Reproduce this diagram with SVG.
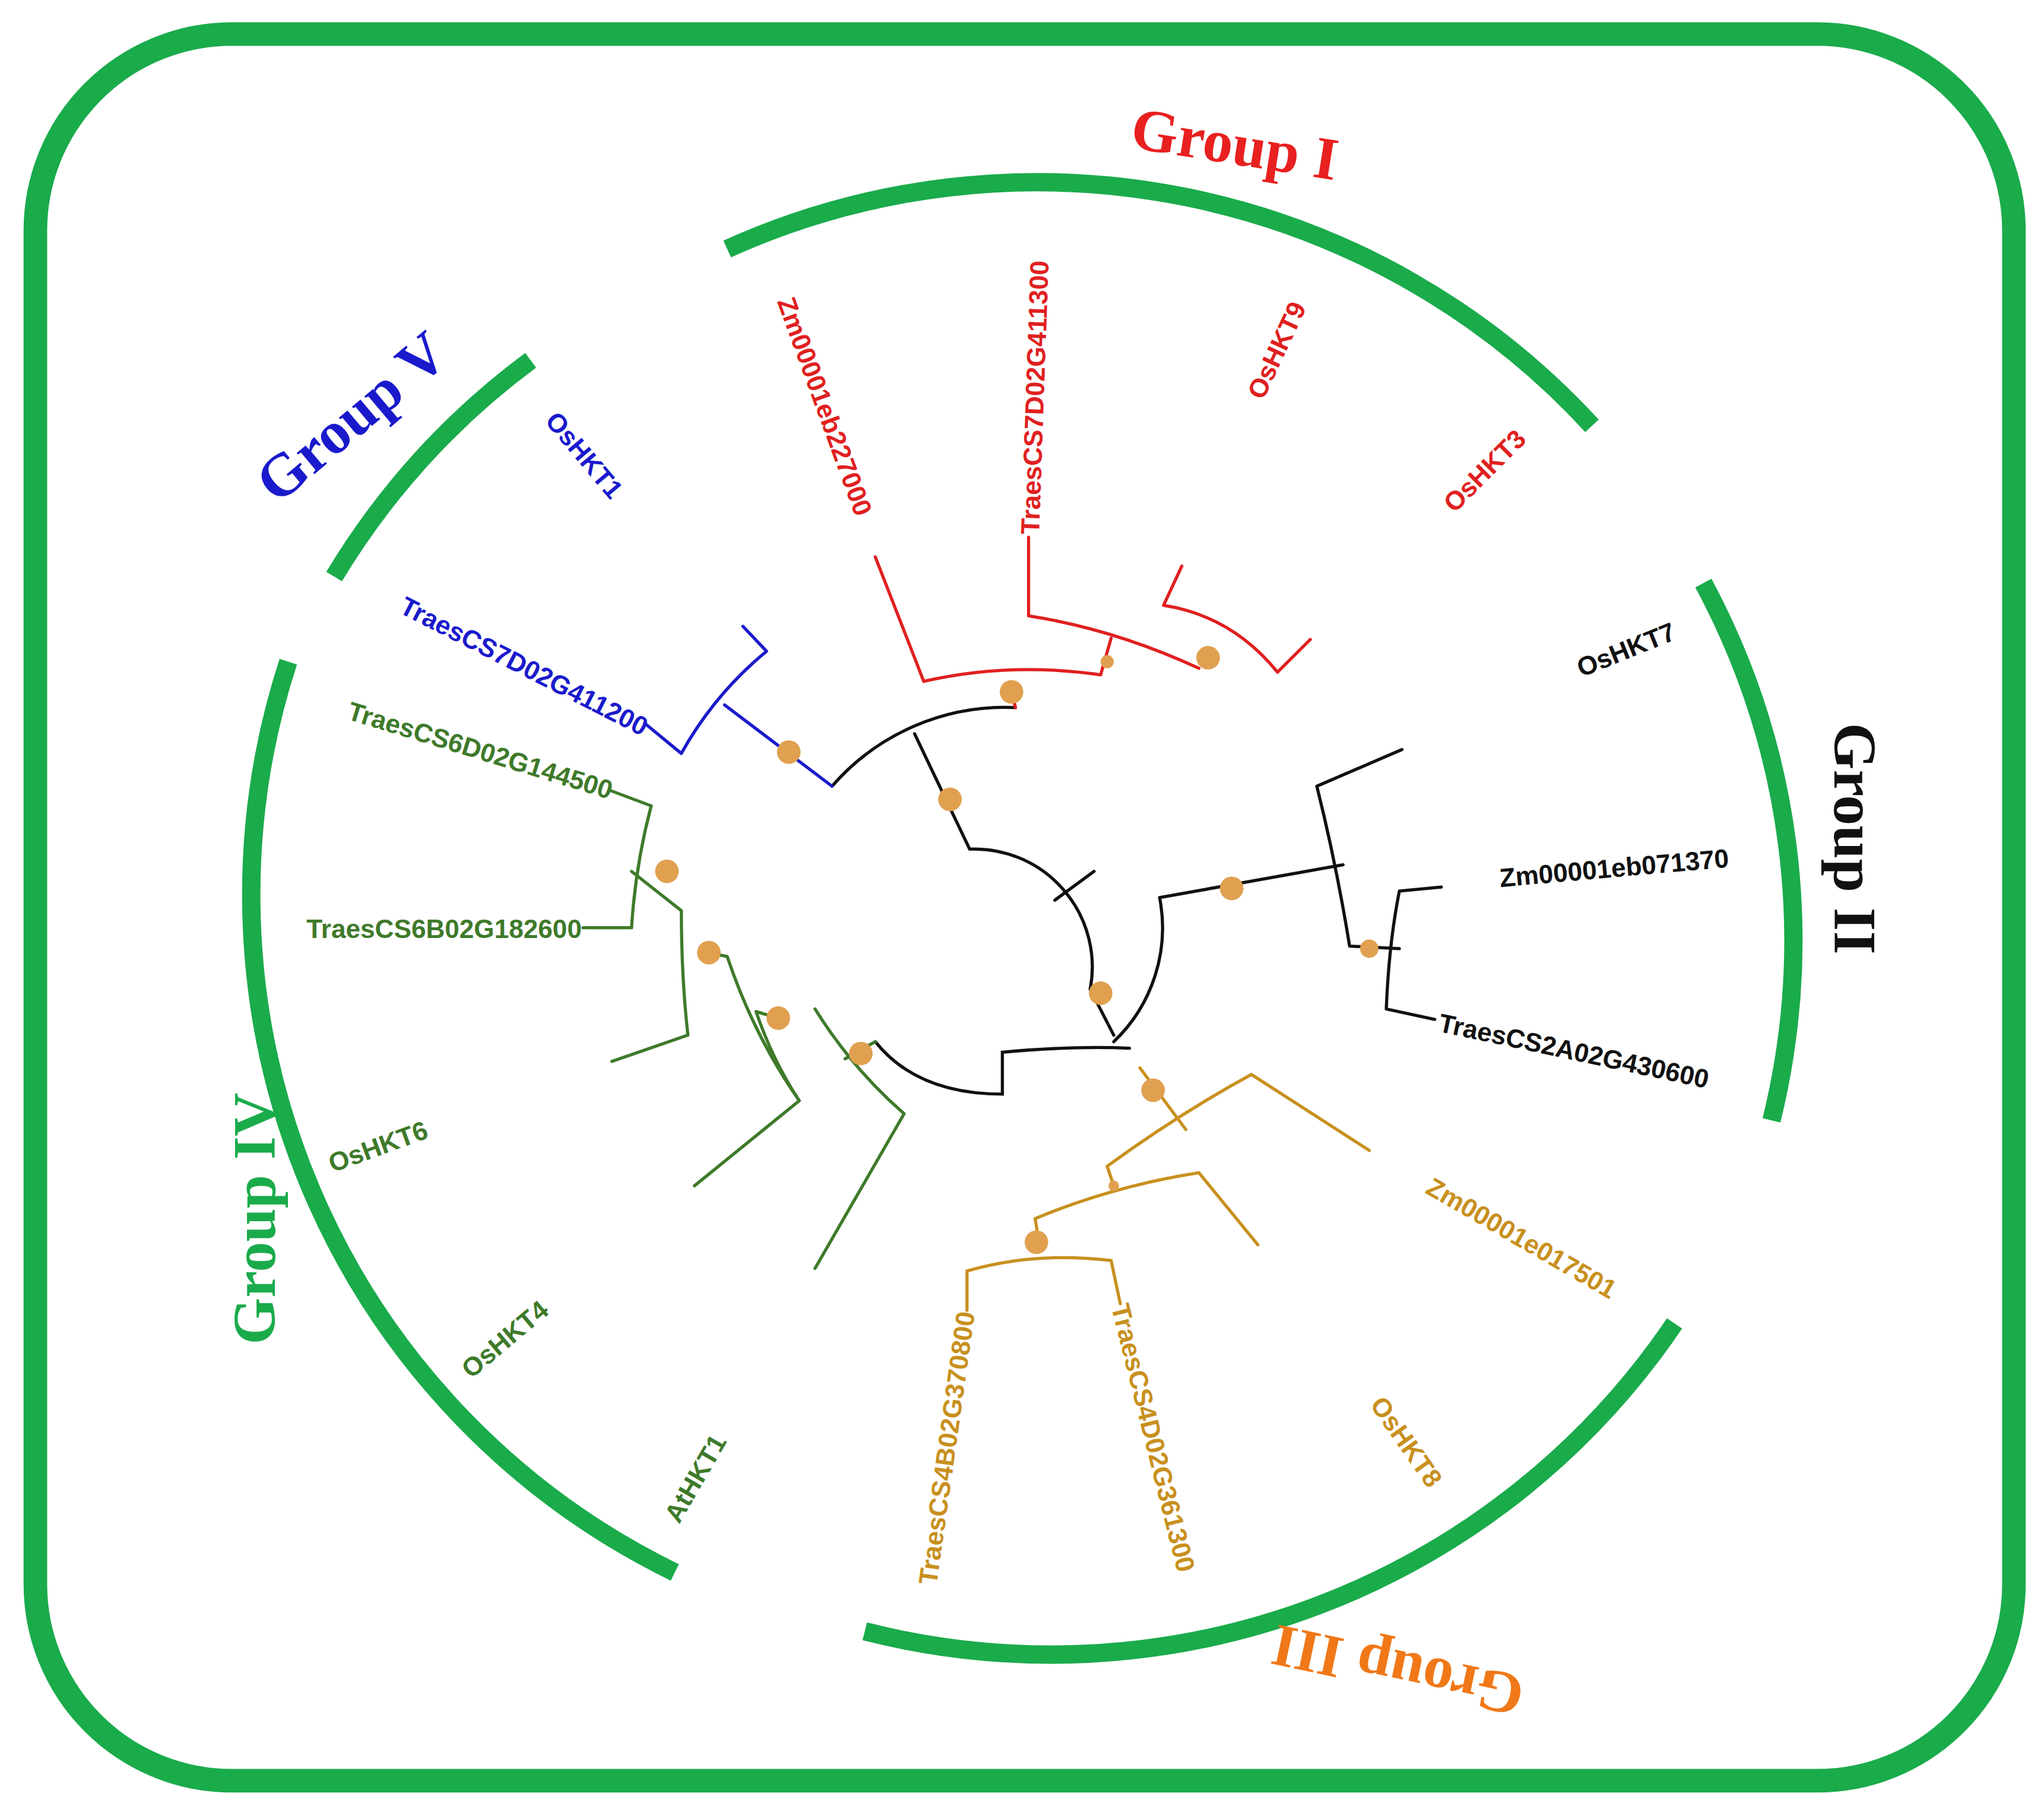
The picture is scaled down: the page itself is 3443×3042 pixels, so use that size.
<svg xmlns="http://www.w3.org/2000/svg" width="3443" height="3042" viewBox="0 0 3443 3042">
<style>
.b{fill:none;stroke-width:2.4;stroke-linecap:round}
.k{stroke:#111}.r{stroke:#e02020}.bl{stroke:#1a1acc}.g{stroke:#3e7a2a}.o{stroke:#c8901e}
.arc{fill:none;stroke:#1aab4b;stroke-width:14}
.d{fill:#e0a050}
.lb{font-family:"Liberation Sans",Arial,sans-serif;font-size:20px;font-weight:bold}
.gp{font-family:"Liberation Serif","Times New Roman",serif;font-size:46px;font-weight:bold}
</style>
<rect width="3443" height="3042" fill="#fff"/>
<g transform="scale(2.2071)">
<rect id="frame" x="27" y="26" width="1510" height="1333" rx="150" fill="none" stroke="#1aab4b" stroke-width="18"/>
<g id="arcs">
<path class="arc" d="M555,190 A575,575 0 0 1 1215,325"/>
<path class="arc" d="M1300,445 A575,575 0 0 1 1352,855"/>
<path class="arc" d="M1278,1010 A575,575 0 0 1 660,1245"/>
<path class="arc" d="M515,1200 A575,575 0 0 1 220,505"/>
<path class="arc" d="M255,440 A575,575 0 0 1 405,275"/>
</g>
<g id="connectors">
<path class="b k" d="M805,687 L835,665 M740,648 A90,90 0 0 1 832,755 M740,648 L698,560 M635,600 A175,175 0 0 1 775,540 M885,685 A120,120 0 0 1 850,795 M885,685 L1025,660 M668,795 Q700,835 765,835 L765,803 Q820,798 862,800 M832,755 L850,790"/>
<path class="b r" d="M775,540 L772,528 M705,520 Q770,505 840,515 M705,520 L668,425 M840,515 L848,487 M785,470 L785,410 M785,470 Q850,480 915,510 M918,508 L922,498 M888,462 Q940,470 975,513 M888,462 L902,432 M975,513 L1000,488"/>
<path class="b bl" d="M635,600 L553,538 M520,575 Q545,530 585,497 M585,497 L567,478 M520,575 L492,552"/>
<path class="b k" d="M1005,600 Q1020,660 1030,722 M1005,600 L1070,572 M1030,722 L1068,724 M1068,680 Q1060,720 1058,770 M1068,680 L1100,677 M1058,770 L1095,778"/>
<path class="b o" d="M870,815 L905,862 M845,890 Q900,850 955,820 M955,820 L1045,878 M845,890 L850,905 M790,930 Q850,905 915,895 M915,895 L960,950 M790,930 L793,948 M738,970 Q790,955 848,962 M738,970 L738,1000 M848,962 L855,995"/>
<path class="b g" d="M668,795 L645,808 M622,770 Q650,815 690,850 M690,850 L622,968 M577,772 Q590,810 610,840 M610,840 L530,905 M594,777 L577,772 M555,730 Q575,790 610,840 M520,695 Q520,745 525,790 M525,790 L467,810 M541,727 L555,730 M520,695 L482,665 M497,615 Q485,660 482,708 M497,615 L465,603 M482,708 L445,708"/>
</g>
<g id="dots">
<circle class="d" cx="772" cy="528" r="9"/><circle class="d" cx="845" cy="505" r="5"/><circle class="d" cx="922" cy="502" r="9"/>
<circle class="d" cx="725" cy="610" r="9"/><circle class="d" cx="602" cy="574" r="9"/><circle class="d" cx="940" cy="678" r="9"/>
<circle class="d" cx="1045" cy="724" r="7"/><circle class="d" cx="840" cy="758" r="9"/><circle class="d" cx="880" cy="832" r="9"/>
<circle class="d" cx="850" cy="905" r="4"/><circle class="d" cx="791" cy="948" r="9"/><circle class="d" cx="657" cy="804" r="9"/>
<circle class="d" cx="594" cy="777" r="9"/><circle class="d" cx="541" cy="727" r="9"/><circle class="d" cx="509" cy="665" r="9"/>
</g>
<g id="labels">
<text class="lb" fill="#111" transform="translate(1207,517) rotate(-22)">OsHKT7</text>
<text class="lb" fill="#111" transform="translate(1145,677) rotate(-5)">Zm00001eb071370</text>
<text class="lb" fill="#111" transform="translate(1097,787) rotate(12)">TraesCS2A02G430600</text>
<text class="lb" fill="#c8901e" transform="translate(1087,910) rotate(30)">Zm00001e017501</text>
<text class="lb" fill="#c8901e" transform="translate(1045,1072) rotate(55)">OsHKT8</text>
<text class="lb" fill="#c8901e" transform="translate(848,997) rotate(76)">TraesCS4D02G361300</text>
<text class="lb" fill="#c8901e" text-anchor="end" transform="translate(744,1002) rotate(-82)">TraesCS4B02G370800</text>
<text class="lb" fill="#3e7a2a" text-anchor="end" transform="translate(555,1100) rotate(-60)">AtHKT1</text>
<text class="lb" fill="#3e7a2a" text-anchor="end" transform="translate(420,1002) rotate(-40)">OsHKT4</text>
<text class="lb" fill="#3e7a2a" text-anchor="end" transform="translate(328,868) rotate(-20)">OsHKT6</text>
<text class="lb" fill="#3e7a2a" text-anchor="end" transform="translate(444,716)">TraesCS6B02G182600</text>
<text class="lb" fill="#3e7a2a" text-anchor="end" transform="translate(465,610) rotate(17)">TraesCS6D02G144500</text>
<text class="lb" fill="#1a1acc" text-anchor="end" transform="translate(490,562) rotate(27)">TraesCS7D02G411200</text>
<text class="lb" fill="#1a1acc" text-anchor="end" transform="translate(466,382) rotate(50)">OsHKT1</text>
<text class="lb" fill="#e02020" text-anchor="end" transform="translate(653,395) rotate(70)">Zm00001eb227000</text>
<text class="lb" fill="#e02020" transform="translate(793,408) rotate(-88)">TraesCS7D02G411300</text>
<text class="lb" fill="#e02020" transform="translate(964,306) rotate(-65)">OsHKT9</text>
<text class="lb" fill="#e02020" transform="translate(1110,392) rotate(-45)">OsHKT3</text>
</g>
<g id="groups">
<text class="gp" fill="#e82020" text-anchor="middle" transform="translate(940,125) rotate(9)">Group I</text>
<text class="gp" fill="#111" text-anchor="middle" transform="translate(1400,640) rotate(90)">Group II</text>
<text class="gp" fill="#f07818" text-anchor="middle" transform="translate(1070,1260) rotate(192)">Group III</text>
<text class="gp" fill="#1aab4b" text-anchor="middle" transform="translate(210,930) rotate(-90)">Group IV</text>
<text class="gp" fill="#1a1acc" text-anchor="middle" transform="translate(278,330) rotate(-40)">Group V</text>
</g>
</g>
</svg>
